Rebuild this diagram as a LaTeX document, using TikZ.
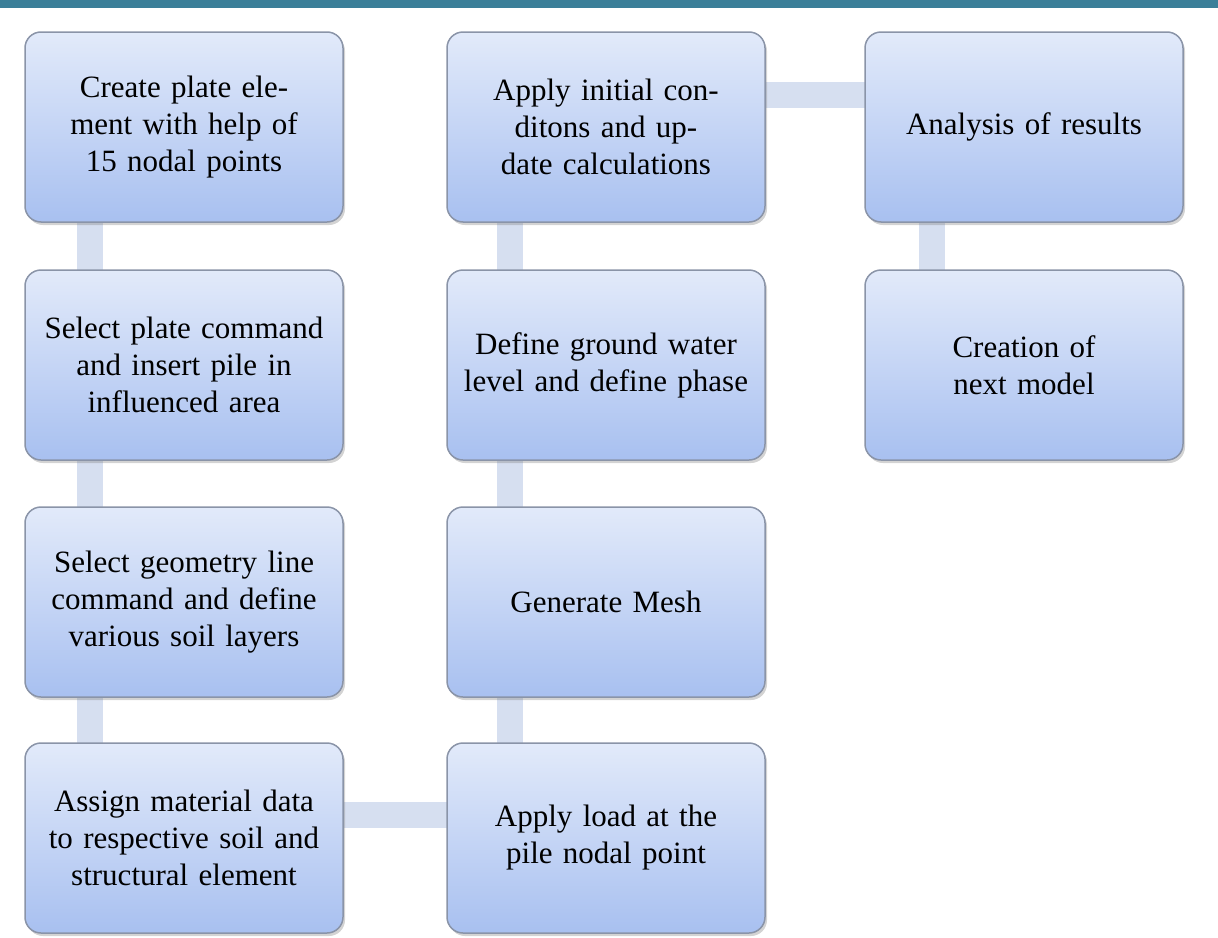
\documentclass[tikz,border=0pt]{standalone}
\usepackage{fontspec}
\setmainfont{Liberation Serif}
\usetikzlibrary{shadows}
\definecolor{teal1}{HTML}{3B7F99}
\definecolor{btop}{HTML}{E2EAFA}
\definecolor{bbot}{HTML}{A8C0F0}
\definecolor{bar}{HTML}{D6DFF0}
\definecolor{bord}{HTML}{8A94A8}
\begin{document}
\begin{tikzpicture}[x=1pt,y=-1pt,
  stepbox/.style={draw=bord,line width=1.5pt,rounded corners=16pt,top color=btop,bottom color=bbot,
    minimum width=318pt,minimum height=190pt,align=center,text width=290pt,
    font=\fontsize{31}{37}\selectfont,drop shadow={shadow xshift=2pt,shadow yshift=-3pt,opacity=0.35}},
  link/.style={draw=bar,line width=26pt}]
\useasboundingbox (0,0) rectangle (1218,937);
\fill[teal1] (0,0) rectangle (1218,8);
% connectors first
\coordinate (v1a) at (90,222); \coordinate (v1b) at (90,270);
\coordinate (v2a) at (90,460); \coordinate (v2b) at (90,507);
\coordinate (v3a) at (90,697); \coordinate (v3b) at (90,743);
\coordinate (h1a) at (343,815); \coordinate (h1b) at (448,815);
\coordinate (w1a) at (510,743); \coordinate (w1b) at (510,697);
\coordinate (w2a) at (510,507); \coordinate (w2b) at (510,460);
\coordinate (w3a) at (510,270); \coordinate (w3b) at (510,222);
\coordinate (h2a) at (765,95); \coordinate (h2b) at (865,95);
\coordinate (u1a) at (932,222); \coordinate (u1b) at (932,270);
\foreach \a/\b in {v1a/v1b,v2a/v2b,v3a/v3b,h1a/h1b,w1a/w1b,w2a/w2b,w3a/w3b,h2a/h2b,u1a/u1b}
  \draw[link] (\a) -- (\b);
\node[stepbox] (a1) at (184,127) {Create plate element with help of 15 nodal points};
\node[stepbox] (a2) at (184,365) {Select plate command and insert pile in influenced area};
\node[stepbox] (a3) at (184,602) {Select geometry line command and define various soil layers};
\node[stepbox] (a4) at (184,838) {Assign material data to respective soil and structural element};
\node[stepbox] (b4) at (606,838) {Apply load at the pile nodal point};
\node[stepbox] (b3) at (606,602) {Generate Mesh};
\node[stepbox] (b2) at (606,365) {Define ground water level and define phase};
\node[stepbox] (b1) at (606,127) {Apply initial conditons and update calculations};
\node[stepbox] (c1) at (1024,127) {Analysis of results};
\node[stepbox] (c2) at (1024,365) {Creation of next model};
\end{tikzpicture}
\end{document}
